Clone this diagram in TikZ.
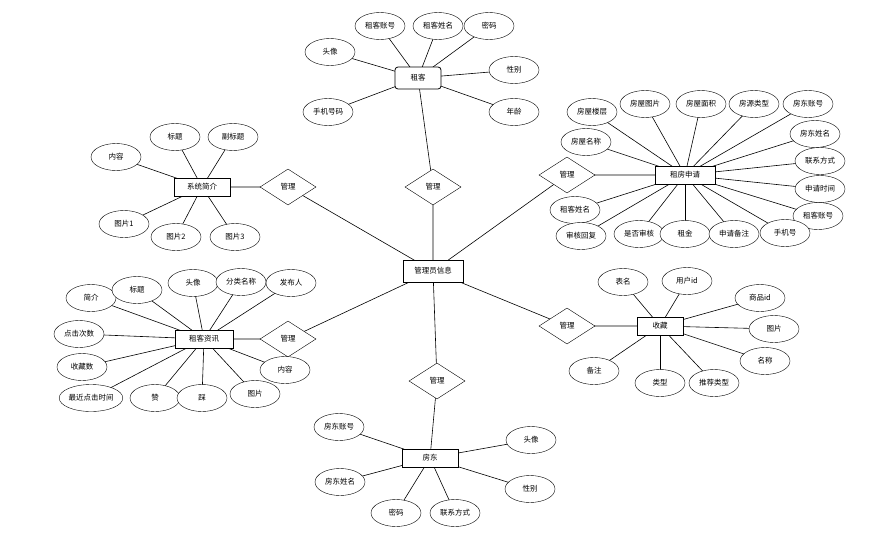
\documentclass[tikz,border=0pt]{standalone}
\usepackage{fontspec}
\setmainfont{Noto Sans CJK SC}
\usetikzlibrary{shapes.geometric,backgrounds}
\begin{document}
\begin{tikzpicture}[x=1pt,y=-1pt,font=\fontsize{7.5}{9}\selectfont,
 attr/.style={ellipse,draw,fill=white,minimum width=50pt,minimum height=27pt,inner sep=0pt},
 ent/.style={rectangle,draw,fill=white,thick,minimum width=56pt,minimum height=18pt,inner sep=1pt},
 rel/.style={diamond,draw,fill=white,aspect=1.6,minimum width=56pt,minimum height=36pt,inner sep=0pt},
 ln/.style={draw,line width=0.6pt}]
\useasboundingbox (0,0) rectangle (894,536);
% central
\node[ent,minimum width=60pt,minimum height=22pt] (adm) at (433,271) {管理员信息};
\node[rel] (r1) at (433,187) {管理};
\node[rel] (r2) at (288,187) {管理};
\node[rel] (r3) at (567,175) {管理};
\node[rel] (r4) at (288,339) {管理};
\node[rel] (r5) at (567,326) {管理};
\node[rel] (r6) at (437,381) {管理};
% 租客
\node[ent,rounded corners=3pt,minimum width=46pt,minimum height=22pt] (zk) at (418,78) {租客};
\node[attr] (zk1) at (380,26) {租客账号};
\node[attr] (zk2) at (438,26) {租客姓名};
\node[attr] (zk3) at (489,26) {密码};
\node[attr] (zk4) at (330,52) {头像};
\node[attr] (zk5) at (514,70) {性别};
\node[attr] (zk6) at (328,112) {手机号码};
\node[attr] (zk7) at (514,112) {年龄};
% 系统简介
\node[ent] (xt) at (202,187) {系统简介};
\node[attr] (xt1) at (175,137) {标题};
\node[attr] (xt2) at (233,137) {副标题};
\node[attr] (xt3) at (116,157) {内容};
\node[attr] (xt4) at (124,224) {图片1};
\node[attr] (xt5) at (176,237) {图片2};
\node[attr] (xt6) at (235,237) {图片3};
% 租房申请
\node[ent,minimum width=60pt] (sq) at (685,175) {租房申请};
\node[attr] (sq1) at (592,112) {房屋楼层};
\node[attr] (sq2) at (645,104) {房屋图片};
\node[attr] (sq3) at (701,104) {房屋面积};
\node[attr] (sq4) at (754,104) {房源类型};
\node[attr] (sq5) at (808,104) {房东账号};
\node[attr] (sq6) at (586,142) {房屋名称};
\node[attr] (sq7) at (815,134) {房东姓名};
\node[attr] (sq8) at (820,161) {联系方式};
\node[attr] (sq9) at (820,189) {申请时间};
\node[attr] (sq10) at (818,216) {租客账号};
\node[attr] (sq11) at (575,210) {租客姓名};
\node[attr] (sq12) at (581,236) {审核回复};
\node[attr] (sq13) at (639,234) {是否审核};
\node[attr] (sq14) at (685,234) {租金};
\node[attr] (sq15) at (734,234) {申请备注};
\node[attr] (sq16) at (785,233) {手机号};
% 租客资讯
\node[ent,minimum width=58pt] (zx) at (204,339) {租客资讯};
\node[attr] (zx1) at (91,298) {简介};
\node[attr] (zx2) at (137,290) {标题};
\node[attr] (zx3) at (193,283) {头像};
\node[attr] (zx4) at (241,282) {分类名称};
\node[attr] (zx5) at (291,283) {发布人};
\node[attr] (zx6) at (79,334) {点击次数};
\node[attr] (zx7) at (82,367) {收藏数};
\node[attr,minimum width=62pt] (zx8) at (91,398) {最近点击时间};
\node[attr] (zx9) at (155,398) {赞};
\node[attr] (zx10) at (202,398) {踩};
\node[attr] (zx11) at (255,394) {图片};
\node[attr] (zx12) at (285,370) {内容};
% 收藏
\node[ent,minimum width=46pt] (sc) at (660,326) {收藏};
\node[attr] (sc1) at (623,282) {表名};
\node[attr] (sc2) at (687,281) {用户id};
\node[attr] (sc3) at (760,298) {商品id};
\node[attr] (sc4) at (774,329) {图片};
\node[attr] (sc5) at (765,361) {名称};
\node[attr] (sc6) at (594,371) {备注};
\node[attr] (sc7) at (660,383) {类型};
\node[attr] (sc8) at (714,383) {推荐类型};
% 房东
\node[ent] (fd) at (430,458) {房东};
\node[attr] (fd1) at (339,427) {房东账号};
\node[attr] (fd2) at (531,440) {头像};
\node[attr] (fd3) at (340,482) {房东姓名};
\node[attr] (fd4) at (530,489) {性别};
\node[attr] (fd5) at (396,513) {密码};
\node[attr] (fd6) at (455,513) {联系方式};
% edges
\begin{scope}[on background layer]
\foreach \e in {zk1,zk2,zk3,zk4,zk5,zk6,zk7} \draw[ln] (\e.center) -- (zk.center);
\foreach \e in {xt1,xt2,xt3,xt4,xt5,xt6} \draw[ln] (\e.center) -- (xt.center);
\foreach \e in {sq1,sq2,sq3,sq4,sq5,sq6,sq7,sq8,sq9,sq10,sq11,sq12,sq13,sq14,sq15,sq16} \draw[ln] (\e.center) -- (sq.center);
\foreach \e in {zx1,zx2,zx3,zx4,zx5,zx6,zx7,zx8,zx9,zx10,zx11,zx12} \draw[ln] (\e.center) -- (zx.center);
\foreach \e in {sc1,sc2,sc3,sc4,sc5,sc6,sc7,sc8} \draw[ln] (\e.center) -- (sc.center);
\foreach \e in {fd1,fd2,fd3,fd4,fd5,fd6} \draw[ln] (\e.center) -- (fd.center);
\draw[ln] (zk.center) -- (r1.center) -- (adm.center);
\draw[ln] (xt.center) -- (r2.center) -- (adm.center);
\draw[ln] (sq.center) -- (r3.center) -- (adm.center);
\draw[ln] (zx.center) -- (r4.center) -- (adm.center);
\draw[ln] (sc.center) -- (r5.center) -- (adm.center);
\draw[ln] (fd.center) -- (r6.center) -- (adm.center);
\end{scope}
\end{tikzpicture}
\end{document}
